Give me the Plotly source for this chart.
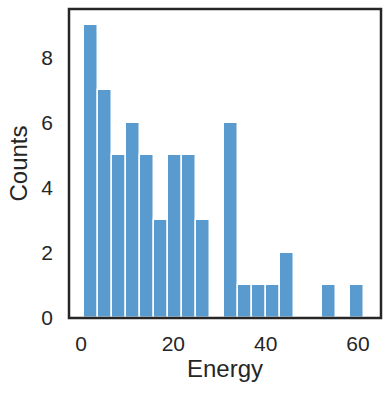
import plotly.graph_objects as go

# Histogram data (20 equal-width bins)
bin_start = 0.65
bin_width = 3.033
counts = [9, 7, 5, 6, 5, 3, 5, 5, 3, 0, 6, 1, 1, 1, 2, 0, 0, 1, 0, 1]
x_ticks = [0, 20, 40, 60]
y_ticks = [0, 2, 4, 6, 8]

centers = [bin_start + bin_width * (i + 0.5) for i in range(len(counts))]

fig = go.Figure(go.Bar(
    x=centers, y=counts, width=[bin_width] * len(counts),
    marker=dict(color="#5A9BCF", line=dict(color="white", width=1.5)),
))

font = "Liberation Sans, Arial, sans-serif"
axis_common = dict(
    showline=False, showgrid=False, zeroline=False, ticks="", automargin=False,
    tickfont=dict(family=font, size=21, color="#262626"),
)
fig.update_layout(
    width=388, height=393,
    margin=dict(l=69, r=7, t=9, b=75),
    plot_bgcolor="white", paper_bgcolor="white",
    showlegend=False, bargap=0,
    xaxis=dict(range=[-2.6, 65.0], tickvals=x_ticks, ticklabelstandoff=11,
               title=dict(text="Energy", font=dict(family=font, size=24, color="#262626"), standoff=4),
               **axis_common),
    yaxis=dict(range=[0, 9.5], tickvals=y_ticks, ticklabelstandoff=15,
               title=dict(text="Counts", font=dict(family=font, size=24, color="#262626"), standoff=6),
               **axis_common),
    shapes=[dict(type="rect", xref="paper", yref="paper", x0=0, y0=0, x1=1, y1=1,
                 line=dict(color="#262626", width=2.5), layer="above")],
)
fig.write_html("out.html", config={"displayModeBar": False},
               post_script="document.body.style.margin='0';document.body.style.overflow='hidden';")
